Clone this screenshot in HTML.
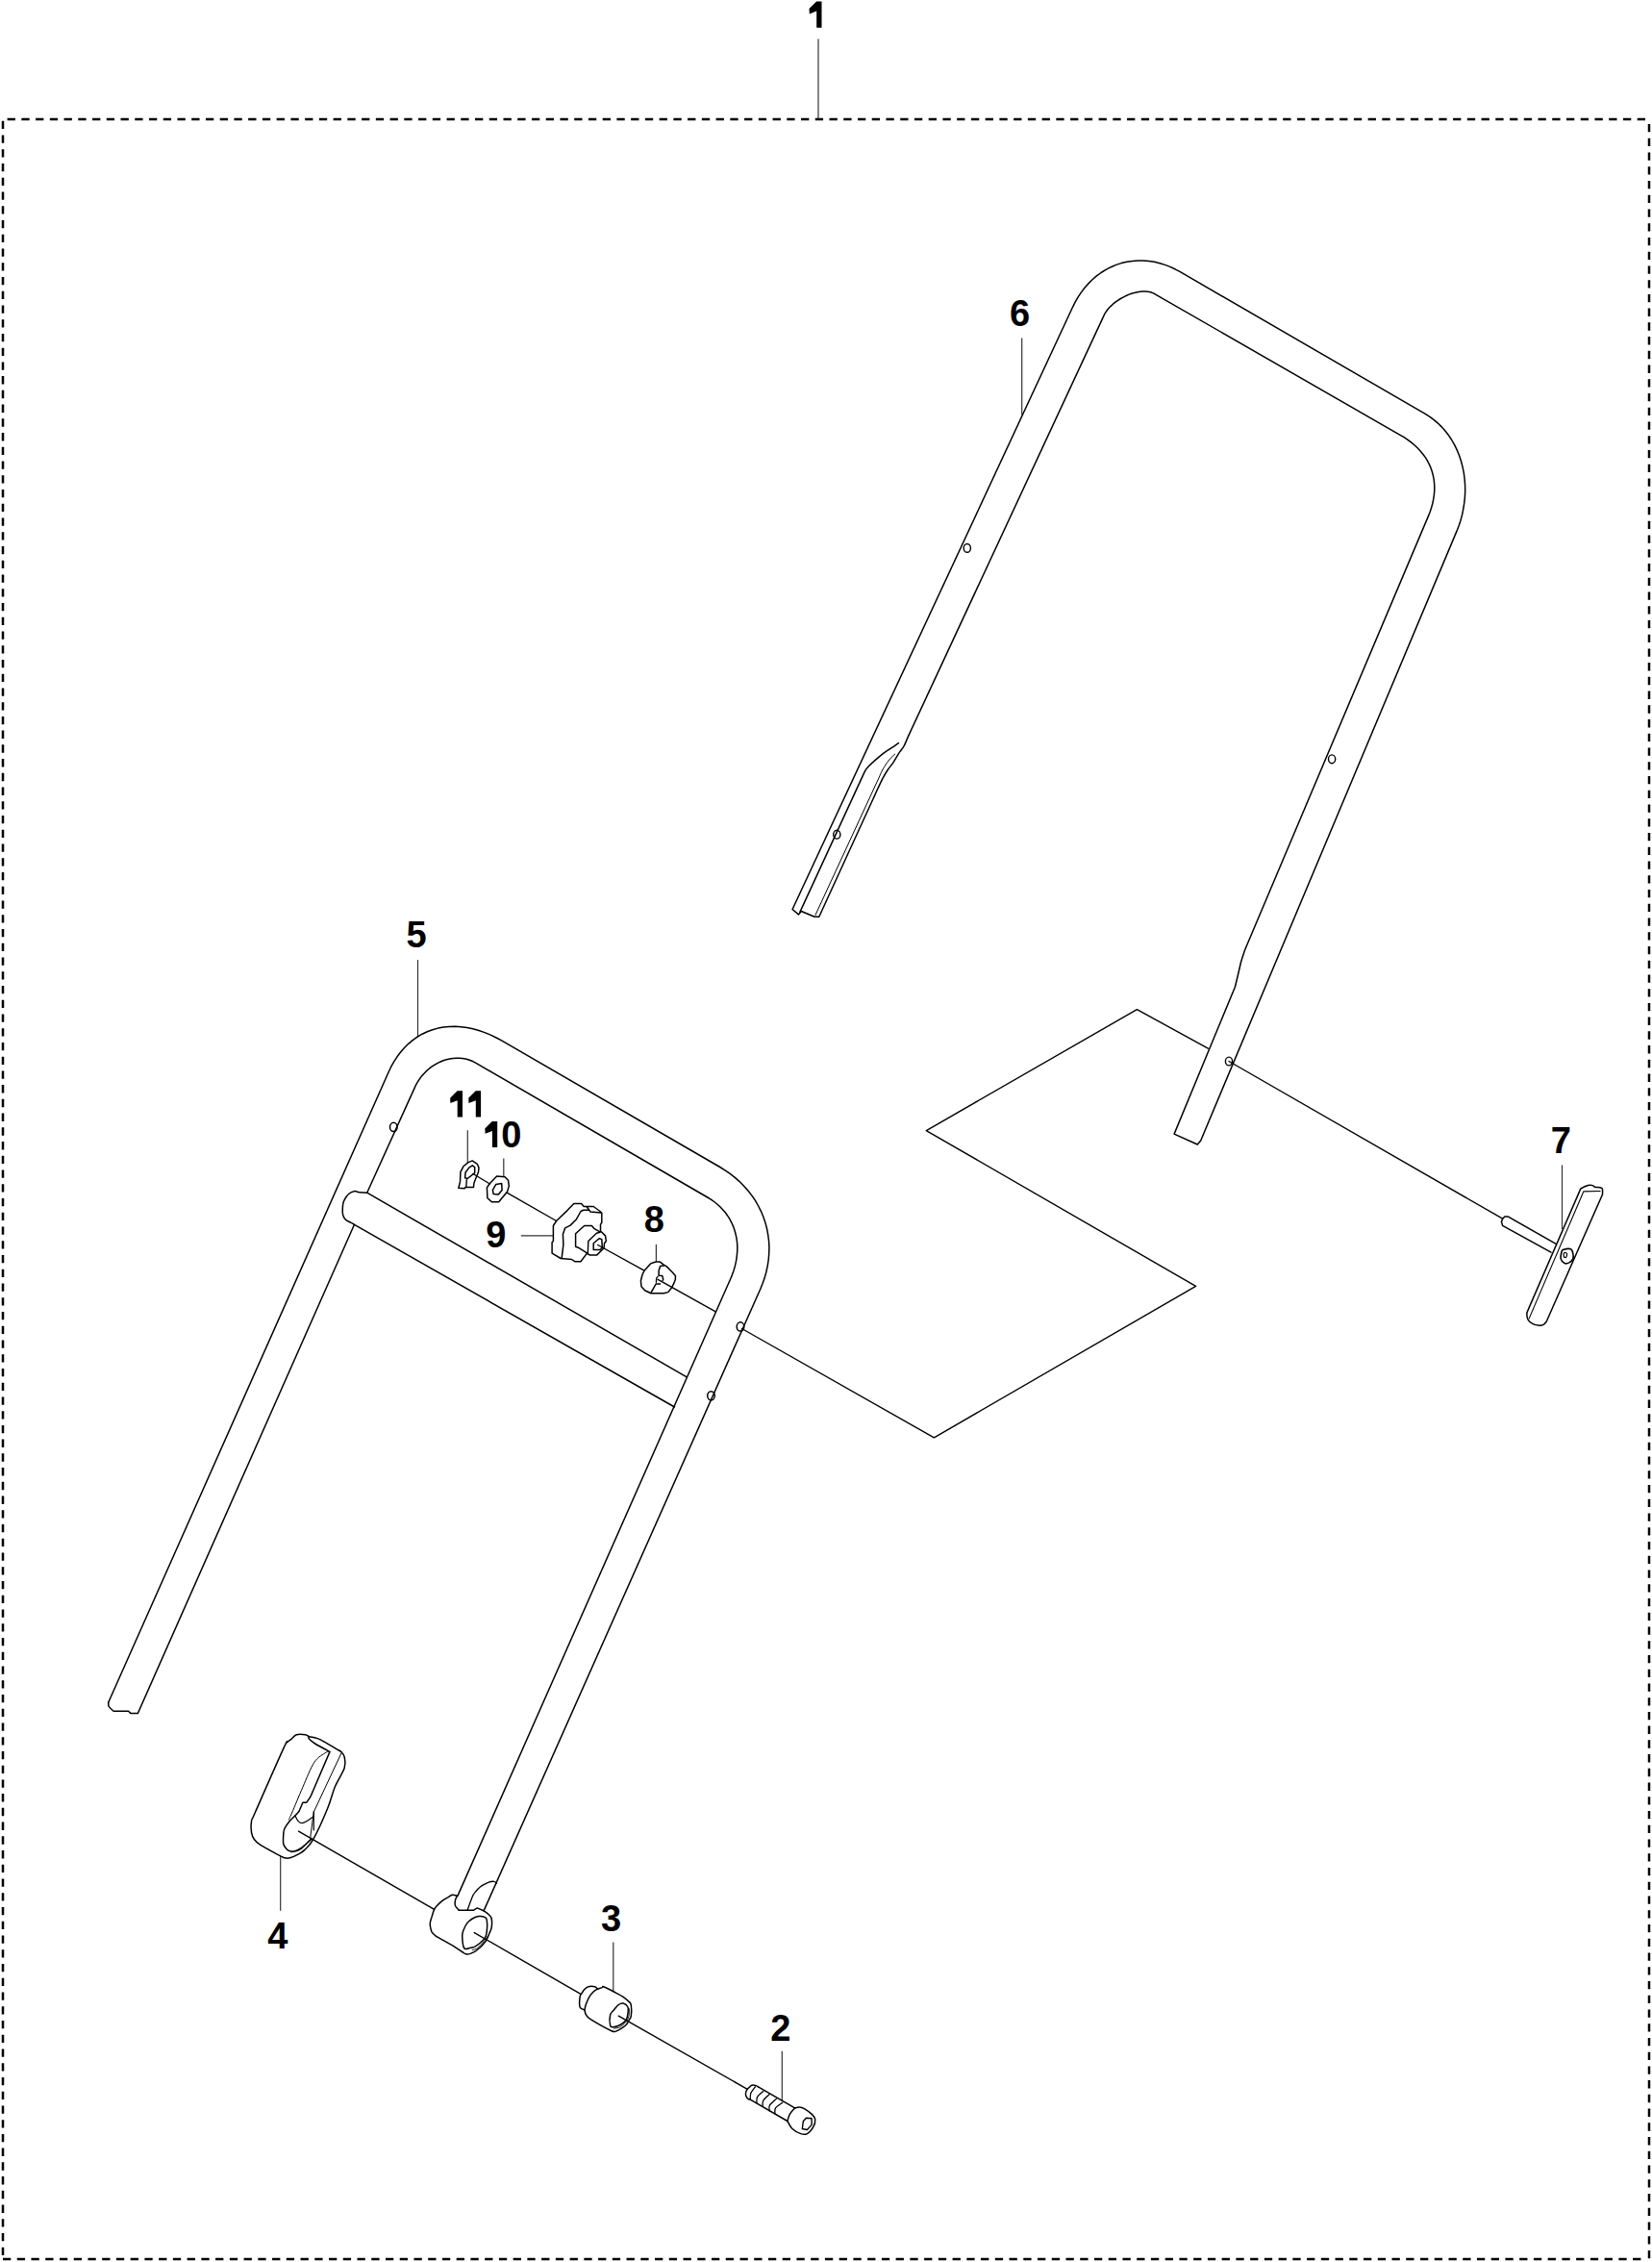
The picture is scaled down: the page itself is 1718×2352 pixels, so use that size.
<!DOCTYPE html>
<html><head><meta charset="utf-8"><style>
html,body{margin:0;padding:0;background:#fff;overflow:hidden;width:1718px;height:2352px;}
svg{display:block;}
text{font-family:"Liberation Sans",sans-serif;font-weight:bold;fill:#000;}
</style></head><body>
<svg width="1718" height="2352" viewBox="0 0 1718 2352">
<rect width="1718" height="2352" fill="#fff"/>
<g fill="none" stroke="#000" stroke-linejoin="round" stroke-linecap="round">
<path d="M7.6,124 L1712.5,124" stroke-width="2.5" stroke-dasharray="8.3 6.44" stroke-linecap="butt"/>
<path d="M3,125.8 L3,2348" stroke-width="2.5" stroke-dasharray="8.3 6.44" stroke-linecap="butt"/>
<path d="M1715,129 L1715,2350.5" stroke-width="2.5" stroke-dasharray="8.3 6.44" stroke-linecap="butt"/>
<path d="M3,2349 L1708,2349" stroke-width="2.5" stroke-dasharray="8.3 6.44" stroke-linecap="butt"/>
<path d="M851.0,40.5 L851.0,123.0" stroke-width="1.20" stroke="#333" stroke-linecap="butt"/>
<path d="M1062.7,351.4 L1062.7,431.6" stroke-width="1.20" stroke="#333" stroke-linecap="butt"/>
<path d="M1624.5,1211.4 L1624.5,1278.0" stroke-width="1.20" stroke="#333" stroke-linecap="butt"/>
<path d="M434.5,998.0 L434.5,1078.6" stroke-width="1.20" stroke="#333" stroke-linecap="butt"/>
<path d="M486.3,1175.3 L486.3,1208.6" stroke-width="1.20" stroke="#333" stroke-linecap="butt"/>
<path d="M523.8,1204.4 L523.8,1223.8" stroke-width="1.20" stroke="#333" stroke-linecap="butt"/>
<path d="M541.8,1284.9 L575.3,1284.9" stroke-width="1.20" stroke="#333" stroke-linecap="butt"/>
<path d="M682.4,1294.1 L682.4,1312.1" stroke-width="1.20" stroke="#333" stroke-linecap="butt"/>
<path d="M291.7,1930.2 L291.7,1986.8" stroke-width="1.20" stroke="#333" stroke-linecap="butt"/>
<path d="M637.8,2019.4 L637.8,2070.4" stroke-width="1.20" stroke="#333" stroke-linecap="butt"/>
<path d="M813.3,2132.8 L813.3,2185.1" stroke-width="1.20" stroke="#333" stroke-linecap="butt"/>
<path d="M824.1,945.5 L1115.8,318.8 L1118.4,313.7 L1121.3,308.7 L1124.5,303.9 L1128.0,299.3 L1131.8,294.9 L1136.0,290.7 L1140.4,286.9 L1145.1,283.5 L1150.1,280.4 L1155.3,277.7 L1160.7,275.4 L1166.2,273.6 L1171.8,272.3 L1177.6,271.4 L1183.3,270.9 L1189.1,271.0 L1194.8,271.4 L1200.5,272.3 L1206.1,273.7 L1211.5,275.4 L1216.8,277.4 L1221.9,279.8 L1226.9,282.4 L1482.7,430.7 L1486.9,433.4 L1491.0,436.4 L1495.1,439.8 L1499.0,443.6 L1502.7,447.7 L1506.2,452.2 L1509.4,457.0 L1512.4,462.2 L1515.1,467.6 L1517.4,473.3 L1519.4,479.3 L1521.0,485.4 L1522.3,491.6 L1523.1,498.0 L1523.6,504.4 L1523.7,510.8 L1523.4,517.2 L1522.7,523.4 L1521.7,529.6 L1520.5,535.6 L1518.9,541.4 L1517.0,547.0 L1514.9,552.4 L1248.7,1186.0 L1245.3,1190.0 L1221.1,1179.1 L1284.4,1026.2 L1287.6,1013.0 L1290.6,1000.0 L1294.5,988.0 L1485.2,537.1 L1487.0,532.8 L1488.4,528.4 L1489.7,524.0 L1490.6,519.7 L1491.3,515.3 L1491.7,511.1 L1491.8,506.9 L1491.6,502.7 L1491.2,498.6 L1490.4,494.6 L1489.4,490.7 L1488.1,486.8 L1486.5,483.1 L1484.6,479.4 L1482.5,475.9 L1480.0,472.5 L1477.3,469.2 L1474.4,466.0 L1471.2,463.0 L1467.8,460.1 L1464.1,457.4 L1460.2,454.7 L1456.1,452.3 L1200.3,305.3 L1198.8,304.6 L1197.2,304.0 L1195.3,303.5 L1193.2,303.2 L1190.9,303.0 L1188.4,303.0 L1185.7,303.3 L1182.8,303.7 L1179.8,304.4 L1176.7,305.3 L1173.6,306.4 L1170.5,307.8 L1167.5,309.3 L1164.6,311.0 L1161.8,312.8 L1159.3,314.7 L1156.9,316.7 L1154.9,318.6 L1153.0,320.6 L1151.4,322.5 L1150.1,324.4 L1149.0,326.2 L1148.1,327.9 L944.3,766.1 C943.6,767.8 941.5,773.1 939.9,776.0 C938.3,778.9 936.3,780.8 934.5,783.6 C932.7,786.4 930.8,790.1 929.0,792.8 C927.2,795.5 925.4,797.2 923.6,799.9 C921.8,802.6 920.7,804.2 918.1,809.2 C915.5,814.2 909.9,826.5 908.3,830.0 L851.8,953.3 L847.0,953.3 L833.3,947.5 L830.4,950.9 L824.1,945.5" stroke-width="1.50"/>
<path d="M934.5,772.7 C932.9,773.8 927.6,777.2 924.7,779.2 C921.8,781.2 920.6,781.7 917.0,784.7 C913.4,787.7 905.9,794.2 902.9,797.2 C899.9,800.2 899.7,801.7 899.1,802.6 L831.9,948.4" stroke-width="1.50"/>
<path d="M930.7,784.1 C929.7,785.1 926.8,787.5 924.7,790.1 C922.6,792.7 919.8,796.9 918.1,799.9 C916.4,802.9 914.9,806.7 914.3,808.1 L848.0,951.4" stroke-width="1.00"/>
<ellipse cx="1005.8" cy="569.9" rx="3.6" ry="4.4" stroke-width="1.4"/>
<ellipse cx="870.3" cy="867.7" rx="3.6" ry="4.4" stroke-width="1.4"/>
<ellipse cx="1385.1" cy="789.3" rx="3.6" ry="4.4" stroke-width="1.4"/>
<ellipse cx="1278.0" cy="1103.5" rx="3.6" ry="4.4" stroke-width="1.4"/>
<path d="M1256.3,1090.2 L1182.4,1049.7 L963.3,1175.6 L1243.6,1337.4 L971.4,1494.8 L771.5,1381.5" stroke-width="1.40"/>
<path d="M112.8,1770.0 L404.1,1114.8 L406.7,1109.2 L409.7,1103.9 L413.0,1098.8 L416.6,1094.0 L420.5,1089.5 L424.7,1085.3 L429.2,1081.6 L434.0,1078.2 L439.0,1075.2 L444.3,1072.7 L449.8,1070.7 L455.5,1069.1 L461.3,1068.0 L467.2,1067.4 L473.3,1067.3 L479.4,1067.7 L485.6,1068.5 L491.8,1069.8 L498.0,1071.5 L504.1,1073.6 L510.2,1076.1 L516.1,1079.0 L522.0,1082.2 L748.7,1213.5 L754.0,1216.8 L759.2,1220.4 L764.3,1224.4 L769.1,1228.6 L773.6,1233.2 L777.9,1238.0 L781.9,1243.1 L785.5,1248.4 L788.7,1254.0 L791.6,1259.8 L794.0,1265.8 L796.1,1271.9 L797.7,1278.2 L798.8,1284.5 L799.6,1290.9 L799.9,1297.3 L799.7,1303.7 L799.2,1310.0 L798.2,1316.3 L796.9,1322.5 L795.2,1328.6 L793.1,1334.5 L790.8,1340.2 L503.5,1985.9" stroke-width="1.50"/>
<path d="M475.9,1971.4 L759.7,1329.8 L761.4,1325.6 L762.9,1321.4 L764.2,1317.2 L765.2,1312.9 L766.0,1308.6 L766.5,1304.2 L766.8,1299.9 L766.8,1295.6 L766.5,1291.3 L765.9,1287.1 L765.0,1283.0 L763.9,1279.0 L762.5,1275.1 L760.8,1271.3 L758.9,1267.6 L756.7,1264.2 L754.3,1260.8 L751.6,1257.7 L748.8,1254.8 L745.8,1252.0 L742.6,1249.5 L739.3,1247.1 L735.8,1245.0 L494.6,1105.1 L492.2,1103.8 L489.6,1102.7 L486.9,1101.7 L484.0,1101.0 L480.9,1100.5 L477.7,1100.2 L474.5,1100.2 L471.1,1100.4 L467.7,1101.0 L464.3,1101.8 L460.9,1102.8 L457.6,1104.2 L454.3,1105.8 L451.2,1107.7 L448.2,1109.7 L445.3,1112.0 L442.7,1114.4 L440.3,1116.9 L438.0,1119.6 L436.1,1122.3 L434.3,1125.0 L432.7,1127.8 L431.4,1130.6 L381.7,1240.2" stroke-width="1.50"/>
<path d="M368.5,1273.3 L143.3,1781.6 L136.0,1781.6 L133.6,1779.2 L118.1,1779.2 L118.1,1779.2 C117.3,1778.4 114.1,1775.9 113.2,1774.4 C112.3,1772.9 112.9,1770.7 112.8,1770.0" stroke-width="1.50"/>
<path d="M381.7,1240.2 L714.2,1431.8" stroke-width="1.50"/>
<path d="M381.7,1240.2 C380.1,1240.1 374.5,1239.8 372.4,1239.5 C370.3,1239.2 370.8,1238.2 369.1,1238.5 C367.5,1238.8 364.4,1239.9 362.5,1241.5 C360.6,1243.1 358.9,1246.1 357.9,1248.1 C356.9,1250.1 356.7,1251.0 356.5,1253.4 C356.3,1255.8 356.1,1260.3 356.5,1262.7 C356.9,1265.1 357.8,1266.5 359.2,1268.0 C360.6,1269.5 363.6,1270.5 365.1,1271.4 C366.7,1272.3 367.9,1273.0 368.5,1273.3 L701.5,1463.0" stroke-width="1.50"/>
<ellipse cx="409.3" cy="1171.9" rx="3.8" ry="4.6" stroke-width="1.5"/>
<ellipse cx="770.0" cy="1379.4" rx="3.8" ry="4.6" stroke-width="1.5"/>
<ellipse cx="739.5" cy="1451.3" rx="3.8" ry="4.6" stroke-width="1.5"/>
<path d="M1278.0,1103.5 L1562.6,1267.2" stroke-width="1.40"/>
<path d="M1617.7,1293.2 L1568.1,1264.9 L1565.0,1264.9 L1562.6,1267.2 L1561.4,1270.4 L1562.6,1274.3 L1613.0,1302.2" stroke-width="1.50"/>
<path d="M1642.9,1238.1 C1643.1,1237.7 1643.0,1236.7 1644.4,1235.7 C1645.9,1234.8 1649.5,1233.1 1651.5,1232.6 C1653.5,1232.1 1655.1,1232.3 1656.2,1232.6 C1657.4,1232.9 1657.2,1233.8 1658.6,1234.2 C1660.0,1234.6 1663.6,1234.6 1664.9,1235.0 C1666.2,1235.3 1666.2,1235.3 1666.5,1236.5 C1666.7,1237.7 1666.5,1241.1 1666.5,1242.0 L1608.2,1374.2 C1607.7,1374.8 1606.3,1376.7 1605.1,1377.4 C1603.9,1378.0 1603.0,1378.3 1601.1,1378.2 C1599.3,1378.0 1596.0,1377.5 1594.1,1376.6 C1592.1,1375.7 1590.4,1374.4 1589.3,1372.7 C1588.3,1371.0 1587.8,1368.2 1587.8,1366.4 C1587.8,1364.5 1589.1,1362.4 1589.3,1361.6Z" stroke-width="1.50"/>
<path d="M1664.1,1238.5 L1646.8,1238.9 L1645.2,1242.8 L1590.1,1371.1" stroke-width="1.10"/>
<path d="M1625.5,1299.5 C1627.1,1299.0 1631.7,1298.0 1633.4,1298.7 C1635.1,1299.3 1635.4,1301.7 1635.8,1303.4 C1636.2,1305.1 1636.4,1307.3 1635.8,1308.9 C1635.1,1310.5 1633.3,1312.1 1631.8,1312.9 C1630.4,1313.6 1628.6,1314.3 1627.1,1313.6 C1625.7,1313.0 1623.7,1310.9 1623.2,1308.9 C1622.7,1307.0 1623.6,1303.4 1624.0,1301.8 C1624.4,1300.3 1624.0,1300.0 1625.5,1299.5Z" stroke-width="1.60"/>
<path d="M1626.7,1302.6 C1627.2,1302.1 1629.1,1302.6 1629.5,1303.4 C1629.8,1304.2 1629.2,1306.8 1628.7,1307.3 C1628.2,1307.9 1626.7,1307.3 1626.3,1306.6 C1626.0,1305.8 1626.2,1303.1 1626.7,1302.6Z" stroke-width="1.20"/>
<path d="M492.0,1220.5 L509.4,1231.0" stroke-width="1.40"/>
<path d="M476.8,1235.3 L478.5,1228.9 L478.9,1218.7 L481.9,1212.8 L486.9,1208.6 L491.2,1206.9 L496.3,1210.3 L498.0,1214.1 L497.5,1218.7 L495.4,1223.8 L492.9,1230.2 L492.5,1234.4 L484.0,1234.4 L483.1,1235.7 L476.8,1235.3" stroke-width="1.50"/>
<path d="M491.2,1211.9 L493.7,1213.6 L493.7,1219.6 L486.1,1225.5 L483.6,1224.7 L484.0,1219.2 L487.8,1214.1 L491.2,1211.9" stroke-width="1.50"/>
<path d="M485.3,1226.8 L484.8,1234.0" stroke-width="1.40"/>
<path d="M509.0,1231.0 L516.6,1223.0 L525.1,1223.8 L528.5,1227.2 L529.3,1233.1 L527.6,1239.1 L518.7,1249.7 L511.5,1249.7 L506.9,1245.8 L506.4,1234.8 L509.0,1231.0" stroke-width="1.50"/>
<path d="M512.4,1237.4 L515.8,1231.4 L521.7,1230.6 L522.1,1237.4 L518.3,1242.0 L513.2,1241.6 L512.4,1237.4" stroke-width="1.50"/>
<path d="M527.6,1240.3 L578.6,1269.5" stroke-width="1.40"/>
<path d="M578.6,1269.5 L590.0,1258.6 L596.8,1251.4 L604.5,1251.4 L607.2,1254.5 L617.2,1254.5 L624.0,1259.5 L625.8,1261.3 L625.8,1271.3 L624.5,1273.1 L624.5,1280.0 L629.5,1284.9 L630.4,1290.4 L628.5,1292.7 L628.1,1297.7 L620.8,1304.9 L613.1,1304.9 L610.4,1303.1 L604.0,1311.7 L597.7,1311.7 L594.5,1309.5 L583.2,1308.5 L574.1,1303.1 L574.1,1291.8 L575.4,1290.4 L575.4,1274.5 L578.6,1269.5" stroke-width="1.50"/>
<path d="M584.1,1308.5 L585.0,1301.7 L585.9,1294.0 L585.4,1283.6 L587.7,1276.8 L593.1,1274.1 L599.5,1267.7 L604.0,1259.5 L606.8,1258.2 L612.2,1258.2" stroke-width="1.50"/>
<path d="M610.4,1255.0 L614.0,1260.0 L619.5,1260.4 L624.9,1260.9" stroke-width="1.50"/>
<path d="M610.8,1303.1 L601.3,1297.2 L598.6,1296.3 L598.6,1282.7 L607.7,1274.5 L615.4,1274.5 L618.1,1277.7 L624.0,1280.9" stroke-width="1.50"/>
<path d="M611.3,1304.0 L611.8,1290.4 L620.4,1282.2 L624.0,1281.3" stroke-width="1.40"/>
<path d="M617.2,1299.5 L617.2,1292.7 L623.1,1287.7 L625.8,1288.6 L626.3,1297.2 L624.0,1299.5 L617.2,1299.5" stroke-width="1.50"/>
<path d="M621.7,1294.5 L670.0,1321.2" stroke-width="1.40"/>
<path d="M682.4,1312.1 L686.3,1312.1 L690.3,1315.1 L693.3,1316.9 L699.3,1323.0 L702.4,1326.6 L702.4,1330.3 L700.9,1334.2 L698.7,1338.7 L694.8,1343.6 L690.3,1344.8 L676.9,1344.8 L670.6,1341.8 L667.0,1337.8 L666.4,1331.8 L667.9,1325.7 L670.0,1321.2 L676.6,1313.9 L679.7,1312.7 L682.4,1312.1" stroke-width="1.50"/>
<path d="M690.3,1316.0 L686.6,1316.6 L685.1,1321.2 L685.1,1326.3 L688.8,1326.6 L689.7,1330.3 L689.1,1331.5" stroke-width="1.50"/>
<path d="M677.3,1343.6 L682.1,1335.1 L686.6,1335.1" stroke-width="1.50"/>
<path d="M682.4,1333.3 L682.7,1329.1 L684.2,1327.2" stroke-width="1.30"/>
<path d="M684.2,1330.3 L744.2,1363.8" stroke-width="1.40"/>
<path d="M310.5,1904.2 L451.6,1985.4" stroke-width="1.40"/>
<path d="M475.4,1971.3 C474.5,1971.1 472.1,1970.1 470.5,1970.3 C468.9,1970.6 467.4,1971.8 465.7,1972.8 C464.0,1973.7 462.2,1974.7 460.3,1976.2 C458.5,1977.6 456.0,1979.9 454.5,1981.5 C453.1,1983.0 452.5,1983.5 451.6,1985.4 C450.7,1987.2 449.9,1990.3 449.2,1992.6 C448.5,1995.0 447.5,1997.5 447.3,1999.4 C447.0,2001.3 447.4,2002.6 447.7,2004.2 C448.1,2005.9 448.2,2007.5 449.2,2009.1 C450.2,2010.6 452.8,2012.7 453.6,2013.4" stroke-width="1.50"/>
<path d="M453.6,2013.4 L471.0,2023.1 L481.2,2029.9" stroke-width="1.50"/>
<path d="M481.2,2029.9 C481.7,2030.2 483.3,2031.6 484.6,2031.8 C485.8,2032.1 487.1,2032.0 488.9,2031.4 C490.8,2030.7 493.0,2030.1 495.7,2028.0 C498.4,2025.9 502.7,2021.7 504.9,2018.8 C507.1,2015.9 507.7,2013.0 508.8,2010.5 C509.8,2008.1 510.8,2006.8 511.2,2004.2 C511.6,2001.7 511.6,1997.2 511.2,1995.0 C510.8,1992.9 510.1,1992.5 508.8,1991.2 C507.4,1989.8 503.9,1987.5 503.0,1986.8" stroke-width="1.50"/>
<path d="M475.4,1971.3 C475.0,1972.1 473.7,1974.5 473.4,1976.2 C473.1,1977.8 472.8,1979.8 473.4,1981.5 C474.1,1983.2 476.6,1985.5 477.3,1986.3" stroke-width="1.50"/>
<path d="M477.3,1986.3 L492.3,1986.3 L496.2,1983.9 L503.0,1986.8" stroke-width="1.50"/>
<path d="M486.0,1986.3 C486.8,1984.1 489.6,1976.3 490.8,1973.2 C492.1,1970.2 492.1,1969.9 493.8,1967.9 C495.4,1965.9 498.2,1962.9 500.5,1961.1 C502.9,1959.4 505.6,1958.1 507.8,1957.3 C510.0,1956.5 512.2,1956.1 513.6,1956.3 C515.1,1956.5 516.0,1957.9 516.5,1958.2" stroke-width="1.30"/>
<path d="M482.6,2025.5 C481.3,2023.4 480.8,2016.1 480.7,2013.0 C480.6,2009.8 481.2,2008.9 482.1,2006.7 C483.0,2004.4 484.5,2001.3 486.0,1999.4 C487.5,1997.5 489.3,1996.2 491.3,1995.0 C493.3,1993.9 495.9,1992.9 498.1,1992.6 C500.3,1992.4 503.0,1992.9 504.4,1993.6 C505.8,1994.2 506.0,1994.1 506.3,1996.5 C506.7,1998.9 506.7,2005.0 506.3,2008.1 C506.0,2011.2 505.4,2013.0 504.4,2014.9 C503.4,2016.7 502.3,2017.7 500.5,2019.2 C498.8,2020.8 495.8,2023.0 493.8,2024.1 C491.7,2025.1 490.3,2025.3 488.4,2025.5 C486.6,2025.8 483.9,2027.6 482.6,2025.5Z" stroke-width="1.50"/>
<path d="M507.3,2013.0 C506.6,2013.9 504.7,2016.7 503.0,2018.8 C501.2,2020.9 498.6,2024.1 496.7,2025.5 C494.7,2027.0 492.2,2027.2 491.3,2027.5" stroke-width="0.90"/>
<path d="M493.3,2009.6 L603.9,2073.3" stroke-width="1.40"/>
<path d="M308.3,1803.7 C310.8,1802.9 315.4,1803.4 317.6,1803.7 C319.8,1804.0 319.5,1805.1 321.6,1805.7 C323.7,1806.3 327.4,1806.6 330.2,1807.6 C333.0,1808.6 335.0,1809.8 338.2,1811.6 C341.4,1813.4 346.7,1816.6 349.5,1818.3 C352.3,1820.0 353.4,1820.1 354.9,1821.6 C356.3,1823.0 357.6,1824.2 358.2,1827.0 C358.8,1829.8 359.9,1833.1 358.2,1838.3 C356.5,1843.5 351.1,1851.2 348.2,1858.2 C345.3,1865.2 344.6,1870.9 340.8,1880.0 C337.1,1889.1 329.7,1905.4 325.7,1912.7 C321.7,1920.0 319.1,1921.1 316.6,1923.6 C314.1,1926.1 313.0,1926.4 310.5,1927.8 C308.0,1929.2 303.9,1931.1 301.5,1931.8 C299.1,1932.5 297.7,1932.2 296.0,1931.8 C294.3,1931.4 295.3,1931.8 291.2,1929.6 C287.1,1927.4 275.6,1921.5 271.2,1918.7 C266.8,1915.9 266.1,1914.9 264.5,1912.7 C262.9,1910.5 262.0,1908.5 261.5,1905.4 C261.0,1902.3 260.8,1897.4 261.5,1893.9 C262.2,1890.4 259.9,1896.9 265.5,1884.2 C271.1,1871.5 289.4,1829.7 295.0,1817.6 C300.6,1805.5 297.6,1813.1 298.9,1811.6 C300.2,1810.0 301.3,1809.6 302.9,1808.3 C304.5,1807.0 305.9,1804.5 308.3,1803.7Z" stroke-width="1.50"/>
<path d="M320.9,1806.3 C321.0,1806.6 320.5,1807.2 321.6,1808.3 C322.7,1809.4 324.1,1810.8 327.6,1813.0 C331.2,1815.2 340.3,1820.0 342.9,1821.4" stroke-width="1.50"/>
<path d="M342.9,1821.6 L322.9,1868.2 L318.9,1874.2 L314.9,1874.2 L310.9,1883.5" stroke-width="1.50"/>
<path d="M310.9,1883.5 C310.2,1884.2 308.5,1886.3 306.9,1887.9 C305.3,1889.5 303.3,1891.1 301.5,1893.3 C299.7,1895.5 297.1,1898.9 296.0,1901.2 C294.9,1903.5 295.0,1904.5 294.8,1907.2 C294.6,1909.9 294.2,1914.9 294.8,1917.5 C295.4,1920.1 297.3,1921.8 298.4,1923.0 C299.5,1924.2 300.0,1924.5 301.5,1924.8 C303.0,1925.1 305.5,1925.3 307.5,1924.8 C309.5,1924.3 311.6,1923.2 313.6,1921.8 C315.6,1920.4 317.9,1917.9 319.6,1916.3 C321.3,1914.7 323.2,1912.8 323.9,1912.1" stroke-width="1.50"/>
<path d="M342.2,1821.6 C341.6,1821.7 341.4,1820.5 338.9,1822.3 C336.3,1824.1 330.9,1826.3 326.9,1832.3 C322.9,1838.3 318.8,1849.4 314.9,1858.2 C311.0,1867.0 306.1,1879.3 303.6,1885.0 C301.2,1890.7 300.8,1890.9 300.2,1892.1" stroke-width="1.00"/>
<path d="M354.9,1823.0 L326.3,1884.0 L322.6,1911.5" stroke-width="1.00"/>
<path d="M306.9,1887.9 C307.4,1888.8 308.7,1892.0 309.9,1893.3 C311.1,1894.6 312.6,1895.7 314.2,1895.7 C315.8,1895.7 317.7,1894.4 319.6,1893.3 C321.5,1892.2 324.7,1889.8 325.7,1889.1" stroke-width="1.20"/>
<path d="M326.3,1883.6 L326.3,1903.0" stroke-width="1.20"/>
<path d="M303.0,1926.0 C304.2,1925.5 307.7,1924.3 310.0,1923.0 C312.3,1921.7 314.7,1920.0 317.0,1918.0 C319.3,1916.0 322.8,1912.2 324.0,1911.0" stroke-width="0.90"/>
<path d="M621.5,2068.1 C621.0,2067.7 620.2,2066.1 618.6,2065.7 C617.0,2065.3 613.6,2065.1 611.8,2065.7 C609.9,2066.2 608.6,2067.8 607.4,2069.0 C606.2,2070.3 605.3,2072.2 604.5,2073.4 C603.8,2074.6 603.3,2074.0 603.1,2076.3 C602.8,2078.6 602.3,2084.7 603.1,2087.0 C603.9,2089.2 607.1,2089.4 607.9,2089.9" stroke-width="1.50"/>
<path d="M621.5,2068.1 C620.8,2068.6 618.6,2069.6 617.1,2071.0 C615.7,2072.4 614.1,2074.1 612.8,2076.3 C611.5,2078.5 610.2,2081.8 609.4,2084.1 C608.6,2086.3 608.2,2088.9 607.9,2089.9" stroke-width="1.50"/>
<path d="M621.5,2068.1 C622.3,2067.8 625.3,2067.0 626.3,2066.6 C627.4,2066.2 625.9,2065.0 627.8,2065.7 C629.6,2066.3 634.1,2068.7 637.5,2070.5 C640.8,2072.3 645.3,2074.5 648.1,2076.3 C650.9,2078.2 653.0,2080.2 654.4,2081.6 C655.8,2083.1 656.0,2082.6 656.3,2085.0 C656.7,2087.4 656.7,2093.7 656.3,2096.2 C656.0,2098.7 655.2,2098.6 654.4,2100.0 C653.6,2101.5 652.8,2103.4 651.5,2104.9 C650.2,2106.3 648.4,2107.6 646.7,2108.8 C645.0,2109.9 643.1,2111.2 641.3,2111.7 C639.6,2112.1 640.5,2113.7 636.0,2111.7 C631.5,2109.6 618.7,2102.4 614.2,2099.6 C609.8,2096.7 610.4,2096.3 609.4,2094.7 C608.3,2093.1 608.2,2090.7 607.9,2089.9" stroke-width="1.50"/>
<path d="M634.6,2105.8 C634.1,2103.7 633.9,2097.9 634.6,2095.2 C635.2,2092.5 637.0,2091.6 638.4,2089.9 C639.9,2088.1 641.7,2085.7 643.3,2084.5 C644.9,2083.4 646.5,2082.7 648.1,2083.1 C649.7,2083.5 652.1,2085.2 653.0,2087.0 C653.8,2088.7 653.2,2091.6 653.0,2093.7 C652.7,2095.8 652.3,2097.9 651.5,2099.6 C650.7,2101.2 649.5,2102.3 648.1,2103.4 C646.7,2104.6 645.1,2105.6 643.3,2106.3 C641.4,2107.1 638.4,2107.9 637.0,2107.8 C635.5,2107.7 635.0,2107.9 634.6,2105.8Z" stroke-width="1.50"/>
<path d="M654.4,2088.9 C654.3,2090.2 654.6,2094.3 653.9,2096.6 C653.3,2099.0 652.1,2101.1 650.5,2102.9 C649.0,2104.8 646.7,2106.7 644.7,2107.8 C642.7,2108.8 639.5,2109.0 638.4,2109.2" stroke-width="0.90"/>
<path d="M643.3,2096.2 L777.2,2172.3" stroke-width="1.40"/>
<path d="M777.2,2172.3 C778.0,2171.7 780.4,2168.9 781.8,2168.2 C783.3,2167.6 784.8,2168.2 785.9,2168.5 C787.1,2168.7 788.1,2169.6 788.5,2169.8" stroke-width="1.50"/>
<path d="M777.2,2172.3 C776.9,2172.9 775.9,2174.3 775.7,2175.4 C775.4,2176.5 775.3,2177.9 775.7,2179.0 C776.0,2180.1 776.9,2181.4 777.7,2182.1 C778.5,2182.8 779.9,2183.0 780.3,2183.1" stroke-width="1.50"/>
<path d="M788.5,2169.8 L826.6,2191.9" stroke-width="1.50"/>
<path d="M780.3,2183.1 L818.9,2205.5" stroke-width="1.50"/>
<path d="M785.4,2169.8 C784.7,2170.9 781.7,2174.3 780.8,2176.5 C779.9,2178.6 780.4,2181.6 780.3,2182.6" stroke-width="1.30"/>
<path d="M793.7,2174.4 C792.6,2175.4 788.6,2178.5 787.5,2180.6 C786.4,2182.6 787.1,2185.7 787.0,2186.7" stroke-width="1.30"/>
<path d="M800.3,2177.5 C799.2,2178.6 794.9,2182.0 793.7,2184.2 C792.5,2186.3 793.2,2189.3 793.1,2190.3" stroke-width="1.30"/>
<path d="M807.6,2182.1 C806.4,2183.3 801.6,2187.2 800.3,2189.3 C799.1,2191.5 800.3,2194.0 800.3,2195.0" stroke-width="1.30"/>
<path d="M813.7,2186.2 C812.5,2187.2 807.8,2189.9 806.5,2191.9 C805.2,2193.9 806.1,2197.0 806.0,2198.1" stroke-width="1.30"/>
<path d="M826.6,2191.9 C825.7,2192.9 822.7,2195.8 821.4,2198.1 C820.2,2200.3 819.3,2204.1 818.9,2205.3" stroke-width="1.50"/>
<path d="M826.6,2191.9 C827.4,2191.7 830.0,2190.7 831.7,2190.9 C833.4,2191.0 834.7,2191.6 836.9,2192.9 C839.0,2194.2 842.8,2196.8 844.6,2198.6 C846.4,2200.4 847.4,2201.7 847.7,2203.7 C847.9,2205.8 847.5,2208.4 846.1,2210.9 C844.8,2213.4 841.7,2217.4 839.4,2218.6 C837.2,2219.9 835.3,2219.5 832.8,2218.6 C830.2,2217.8 826.3,2215.7 824.0,2213.5 C821.7,2211.3 819.7,2206.6 818.9,2205.3" stroke-width="1.50"/>
<path d="M834.3,2213.5 L835.3,2205.8 L838.4,2202.2 L844.1,2202.7 L844.1,2209.4 L839.4,2214.5 L834.3,2213.5" stroke-width="1.40"/>
</g>
<path d="M849.1,1.5 L854.5,1.5 L854.5,28.8 L849.2,28.8 L849.2,11.6 L841.8,14.4 L841.5,9.0Z" fill="#000" stroke="none"/>
<path d="M475.6,1134.3 L481.0,1134.3 L481.0,1161.4 L475.7,1161.4 L475.7,1144.3 L468.4,1147.1 L468.1,1141.7Z" fill="#000" stroke="none"/>
<path d="M494.7,1134.3 L500.1,1134.3 L500.1,1161.4 L494.8,1161.4 L494.8,1144.3 L487.5,1147.1 L487.2,1141.7Z" fill="#000" stroke="none"/>
<path d="M511.8,1166.0 L517.2,1166.0 L517.2,1193.1 L511.9,1193.1 L511.9,1176.0 L504.6,1178.8 L504.3,1173.4Z" fill="#000" stroke="none"/>
<text x="531.8" y="1193.2" font-size="38" text-anchor="middle">0</text>
<text x="1060.6" y="339.0" font-size="38" text-anchor="middle">6</text>
<text x="1623.2" y="1199.3" font-size="38" text-anchor="middle">7</text>
<text x="433.0" y="985.0" font-size="38" text-anchor="middle">5</text>
<text x="515.9" y="1296.5" font-size="38" text-anchor="middle">9</text>
<text x="680.4" y="1280.7" font-size="38" text-anchor="middle">8</text>
<text x="288.9" y="2026.0" font-size="38" text-anchor="middle">4</text>
<text x="635.5" y="2007.6" font-size="38" text-anchor="middle">3</text>
<text x="811.7" y="2121.6" font-size="38" text-anchor="middle">2</text>
</svg>
</body></html>
